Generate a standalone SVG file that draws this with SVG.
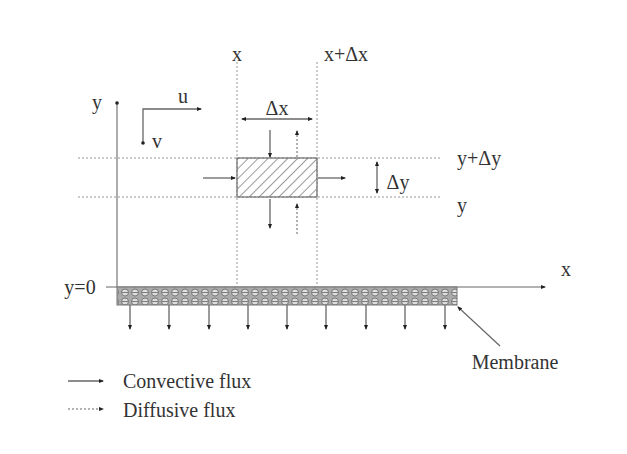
<svg xmlns="http://www.w3.org/2000/svg" width="627" height="454" viewBox="0 0 627 454">
<style>
text{font-family:"Liberation Serif",serif;fill:#333;font-size:20px}
.ax{stroke:#999;stroke-width:1.6;fill:none}
.dot{stroke:#bbb;stroke-width:1.5;stroke-dasharray:2 2;fill:none}
.ar{stroke:#666;stroke-width:1.3;fill:none;marker-end:url(#h)}
.da{stroke:#999;stroke-width:1.5;stroke-dasharray:2 2;fill:none;marker-end:url(#h)}
</style>
<defs>
<marker id="h" markerWidth="6" markerHeight="6" refX="4" refY="3" orient="auto" markerUnits="userSpaceOnUse"><path d="M0,1 L5,3 L0,5 Z" fill="#222"/></marker>
<marker id="hs" markerWidth="6" markerHeight="6" refX="1" refY="3" orient="auto" markerUnits="userSpaceOnUse"><path d="M5,1 L0,3 L5,5 Z" fill="#222"/></marker>
<pattern id="hatch" width="7" height="7" patternUnits="userSpaceOnUse" patternTransform="rotate(45)"><line x1="0" y1="0" x2="0" y2="7" stroke="#555" stroke-width="1.2"/></pattern>
<pattern id="mem" width="10" height="9" patternUnits="userSpaceOnUse"><rect width="10" height="9" fill="#aaa"/><circle cx="5" cy="4.5" r="3.5" fill="#ddd" stroke="#666" stroke-width="0.8"/><line x1="1.5" y1="4.5" x2="8.5" y2="4.5" stroke="#666" stroke-width="0.8"/></pattern>
</defs>
<g id="grid">
<line class="dot" x1="237" y1="62" x2="237" y2="286"/>
<line class="dot" x1="317" y1="62" x2="317" y2="286"/>
<line class="dot" x1="78" y1="158" x2="440" y2="158"/>
<line class="dot" x1="78" y1="197" x2="440" y2="197"/>
</g>
<g id="axes">
<line class="ax" x1="117" y1="104" x2="117" y2="288"/>
<circle cx="117" cy="103" r="1.8" fill="#222"/>
<line class="ax" x1="106" y1="287" x2="545" y2="287" marker-end="url(#h)"/>
</g>
<g id="element">
<rect x="237" y="158" width="80" height="39" fill="url(#hatch)" stroke="#777" stroke-width="1.3"/>
</g>
<g id="membrane">
<rect x="117" y="287" width="340" height="18" fill="url(#mem)" stroke="#777" stroke-width="1"/>
</g>
<g id="connectors">
<path class="ar" d="M143,142 V109 H201"/>
<circle cx="143" cy="143" r="1.8" fill="#222"/>
<line class="ar" x1="242" y1="119" x2="312" y2="119" marker-start="url(#hs)"/>
<line class="ar" x1="377" y1="162" x2="377" y2="193" marker-start="url(#hs)"/>
<line class="ar" x1="203" y1="178" x2="235" y2="178"/>
<line class="ar" x1="318" y1="178" x2="345" y2="178"/>
<line class="ar" x1="270" y1="130" x2="270" y2="157"/>
<line class="ar" x1="270" y1="199" x2="270" y2="228"/>
<line class="da" x1="297" y1="157" x2="297" y2="131"/>
<line class="da" x1="297" y1="234" x2="297" y2="204"/>
<g>
<line class="ar" x1="130" y1="305" x2="130" y2="329"/>
<line class="ar" x1="169" y1="305" x2="169" y2="329"/>
<line class="ar" x1="209" y1="305" x2="209" y2="329"/>
<line class="ar" x1="248" y1="305" x2="248" y2="329"/>
<line class="ar" x1="287" y1="305" x2="287" y2="329"/>
<line class="ar" x1="326" y1="305" x2="326" y2="329"/>
<line class="ar" x1="366" y1="305" x2="366" y2="329"/>
<line class="ar" x1="405" y1="305" x2="405" y2="329"/>
<line class="ar" x1="445" y1="305" x2="445" y2="329"/>
</g>
<line x1="500" y1="346" x2="458" y2="307" stroke="#666" stroke-width="1.2" marker-end="url(#h)"/>
<line class="ar" x1="68" y1="381" x2="103" y2="381"/>
<line class="da" x1="68" y1="409" x2="103" y2="409"/>
</g>
<g id="labels">
<text x="97" y="109" text-anchor="middle">y</text>
<text x="183" y="103" text-anchor="middle">u</text>
<text x="157" y="148" text-anchor="middle">v</text>
<text x="237" y="61" text-anchor="middle">x</text>
<text x="346" y="61" text-anchor="middle">x+Δx</text>
<text x="277" y="115" text-anchor="middle">Δx</text>
<text x="398" y="189" text-anchor="middle">Δy</text>
<text x="457" y="165">y+Δy</text>
<text x="457" y="212">y</text>
<text x="566" y="276" text-anchor="middle">x</text>
<text x="80" y="294" text-anchor="middle">y=0</text>
<text x="515" y="369" text-anchor="middle">Membrane</text>
<text x="123" y="388">Convective flux</text>
<text x="123" y="417">Diffusive flux</text>
</g>
</svg>
